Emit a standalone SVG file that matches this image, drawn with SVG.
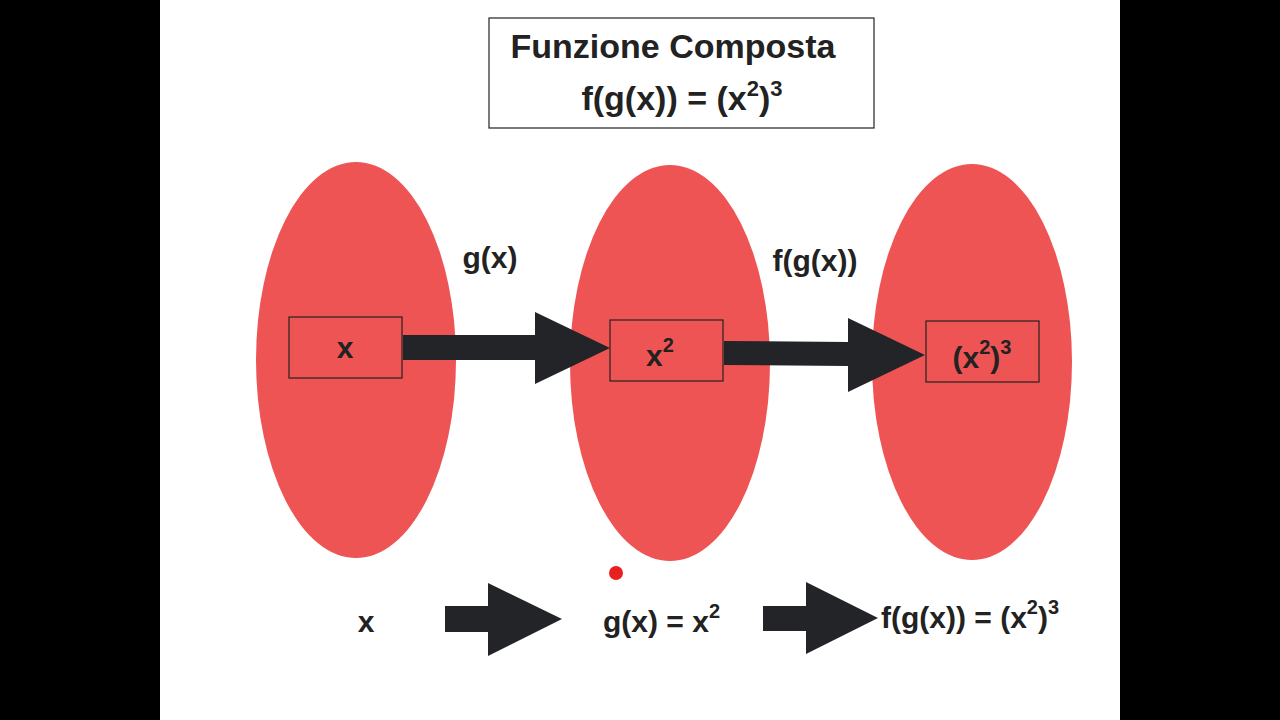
<svg xmlns="http://www.w3.org/2000/svg" width="1280" height="720" viewBox="0 0 1280 720">
<style>
text{font-family:"Liberation Sans",Arial,sans-serif;font-weight:bold;fill:#222}
.e{fill:#ef5454}
.b{fill:none;stroke:#222;stroke-width:1.2}
.a{fill:#222427}
</style>
<rect width="1280" height="720" fill="#fff"/>
<rect width="160" height="720" fill="#000"/>
<rect x="1120" width="160" height="720" fill="#000"/>
<g id="title">
<rect x="489" y="18" width="385" height="110" class="b"/>
<text x="673" y="58" font-size="34" text-anchor="middle">Funzione Composta</text>
<text x="682" y="110" font-size="34" text-anchor="middle">f(g(x)) = (x<tspan font-size="22" dy="-14">2</tspan><tspan dy="14">)</tspan><tspan font-size="22" dy="-14">3</tspan></text>
</g>
<g id="set1"><ellipse cx="356" cy="360" rx="100" ry="198" class="e"/><rect x="289" y="317" width="113" height="61" class="b"/><text x="345" y="358" font-size="30" text-anchor="middle">x</text></g>
<g id="set2"><ellipse cx="670" cy="363" rx="100" ry="198" class="e"/><rect x="610" y="320" width="113" height="61" class="b"/><text x="660" y="366" font-size="30" text-anchor="middle">x<tspan font-size="20" dy="-14">2</tspan></text></g>
<g id="set3"><ellipse cx="972" cy="362" rx="100" ry="198" class="e"/><rect x="926" y="321" width="113" height="61" class="b"/><text x="982" y="368" font-size="30" text-anchor="middle">(x<tspan font-size="20" dy="-14">2</tspan><tspan dy="14">)</tspan><tspan font-size="20" dy="-14">3</tspan></text></g>
<g id="connectors">
<polygon class="a" points="403,335 535,335 535,312 610,348 535,384 535,360 403,360"/>
<polygon class="a" points="724,341 848,342 848,318 925,355 848,392 848,366 724,365"/>
<polygon class="a" points="445,606 488,606 488,583 562,619 488,656 488,632 445,632"/>
<polygon class="a" points="763,606 806,606 806,582 878,618 806,654 806,631 763,631"/>
</g>
<text x="490" y="268" font-size="30" text-anchor="middle">g(x)</text>
<text x="815" y="271" font-size="30" text-anchor="middle">f(g(x))</text>
<text x="366" y="632" font-size="30" text-anchor="middle">x</text>
<text x="603" y="632" font-size="30">g(x) = x<tspan font-size="20" dy="-14">2</tspan></text>
<text x="881" y="628" font-size="30">f(g(x)) = (x<tspan font-size="20" dy="-14">2</tspan><tspan dy="14">)</tspan><tspan font-size="20" dy="-14">3</tspan></text>
<circle cx="616" cy="573" r="7" fill="#e82020"/>
</svg>
